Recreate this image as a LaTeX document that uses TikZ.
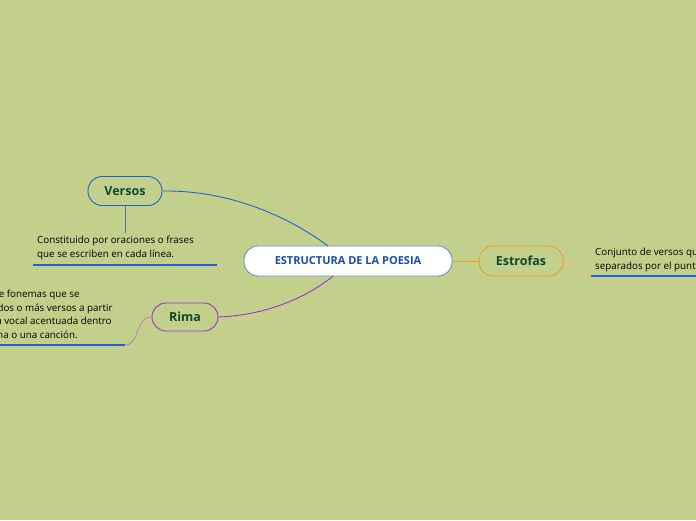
\documentclass[tikz,border=0pt]{standalone}
\usepackage{fontspec}
\setmainfont{Open Sans}
\definecolor{bgc}{HTML}{C3D08C}
\definecolor{txc}{HTML}{0D4A2E}
\definecolor{myblue}{HTML}{2060D8}
\definecolor{mypurple}{HTML}{A030D0}
\definecolor{myorange}{HTML}{F0A020}
\begin{document}
\begin{tikzpicture}[x=1pt,y=-1pt,
 topic/.style={draw,rounded corners=14pt,fill=bgc,line width=0.9pt,font=\bfseries\fontsize{12.5}{14}\selectfont,text=txc,minimum height=29pt,inner sep=0pt},
 note/.style={align=left,font=\fontsize{9.8}{13.5}\selectfont,text=black,anchor=north west,inner sep=0pt}]
\path[use as bounding box,fill=bgc] (0,0) rectangle (696,520);
\clip (0,0) rectangle (696,520);
\node[topic,draw=myblue!70,fill=white,text=myblue!80!black,minimum width=208pt,minimum height=30pt,font=\bfseries\fontsize{11}{13}\selectfont] (c) at (348,261) {ESTRUCTURA DE LA POESIA};
\node[topic,draw=myblue,minimum width=74pt] (v) at (125,191) {Versos};
\node[topic,draw=myorange,minimum width=84pt,minimum height=30pt] (e) at (521,261) {Estrofas};
\node[topic,draw=mypurple,minimum width=66pt,minimum height=28pt] (r) at (185,317) {Rima};
\node[note] (vt) at (37,236) {Constituido por oraciones o frases\\que se escriben en cada línea.};
\node[note] (et) at (595,248) {Conjunto de versos que están\\separados por el punto y aparte.};
\node[note] (rt) at (-52,290) {Conjunto de fonemas que se\\repiten en dos o más versos a partir\\de la última vocal acentuada dentro\\de un poema o una canción.};
\coordinate (vu1) at (33,265); \coordinate (vu2) at (217,265);
\coordinate (eu1) at (591,276); \coordinate (eu2) at (696,276);
\coordinate (ru1) at (0,345); \coordinate (ru2) at (125,345);
\coordinate (vb) at (125,233);
\draw[myblue,line width=1.2pt] (vu1)--(vu2);
\draw[myblue,line width=1.2pt] (eu1)--(eu2);
\draw[myblue,line width=1.2pt] (ru1)--(ru2);
\draw[myblue!40!gray,line width=1pt] (v.south)--(vb);
\draw[myorange!70,line width=0.7pt] (e.east) .. controls (580,261) and (575,276) .. (eu1);
\draw[mypurple!70,line width=0.7pt] (r.west) .. controls (135,317) and (140,345) .. (ru2);
\draw[myblue,line width=0.9pt] (v.east) .. controls (240,190) and (300,225) .. (328,246);
\draw[mypurple,line width=0.9pt] (r.east) .. controls (270,315) and (310,295) .. (333,276);
\draw[myorange,line width=0.9pt] (c.east)--(e.west);
\end{tikzpicture}
\end{document}
